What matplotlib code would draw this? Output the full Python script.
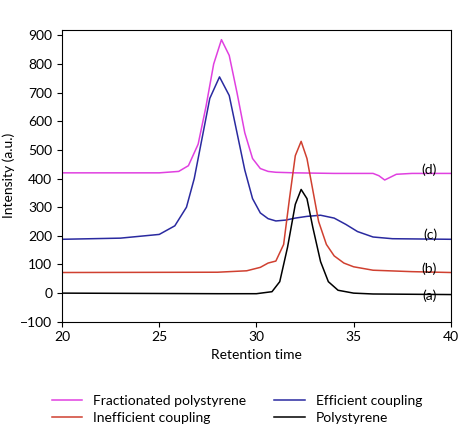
import matplotlib
matplotlib.use("Agg")
import matplotlib.pyplot as plt

plt.rcParams['font.family'] = ['Lato', 'DejaVu Sans']

# (d) Fractionated polystyrene
xd = [20, 25, 26, 26.5, 27, 27.4, 27.8, 28.2, 28.6, 29, 29.4, 29.8, 30.2, 30.6, 31, 32, 34, 36, 36.3, 36.6, 36.9, 37.2, 38, 40]
yd = [420, 420, 425, 445, 520, 650, 800, 885, 830, 700, 560, 470, 435, 425, 422, 420, 418, 418, 410, 395, 405, 415, 418, 418]
# (c) Efficient coupling
xc = [20, 23, 25, 25.8, 26.4, 26.8, 27.2, 27.6, 28.1, 28.6, 29, 29.4, 29.8, 30.2, 30.6, 31, 31.5, 32, 32.6, 33.3, 34, 34.6, 35.2, 36, 37, 40]
yc = [188, 192, 205, 235, 300, 400, 540, 680, 755, 690, 560, 430, 330, 280, 260, 252, 255, 262, 268, 272, 262, 240, 215, 196, 190, 188]
# (b) Inefficient coupling
xb = [20, 28, 29.5, 30.2, 30.6, 31, 31.4, 31.7, 32, 32.3, 32.6, 32.9, 33.2, 33.6, 34, 34.5, 35, 36, 38, 40]
yb = [72, 73, 78, 90, 105, 112, 170, 330, 480, 530, 470, 360, 250, 170, 130, 105, 92, 80, 75, 72]
# (a) Polystyrene
xa = [20, 28, 30, 30.8, 31.2, 31.6, 32, 32.3, 32.6, 32.9, 33.3, 33.7, 34.2, 35, 36, 40]
ya = [0, -2, -2, 5, 40, 160, 310, 362, 330, 230, 110, 40, 10, 0, -3, -5]

fig = plt.figure(figsize=(4.74, 4.36), dpi=100)
ax = fig.add_axes([0.131, 0.262, 0.82, 0.67])
ax.plot(xd, yd, color='#e040e0', lw=1.1, label='Fractionated polystyrene')
ax.plot(xc, yc, color='#2a2aa0', lw=1.1, label='Efficient coupling')
ax.plot(xb, yb, color='#d04030', lw=1.1, label='Inefficient coupling')
ax.plot(xa, ya, color='black', lw=1.1, label='Polystyrene')
ax.set_xlim(20, 40)
ax.set_ylim(-100, 920)
ax.set_yticks(range(-100, 901, 100))
ax.set_xticks([20, 25, 30, 35, 40])
ax.tick_params(labelsize=10, direction='out')
ax.set_xlabel('Retention time', fontsize=10)
ax.set_ylabel('Intensity (a.u.)', fontsize=10)
for y, t in [(430, '(d)'), (205, '(c)'), (85, '(b)'), (-8, '(a)')]:
    ax.text(39.3, y, t, fontsize=10, ha='right', va='center')
h, l = ax.get_legend_handles_labels()
order = [0, 2, 1, 3]
fig.legend([h[i] for i in order], [l[i] for i in order], loc='lower center',
           bbox_to_anchor=(0.5, 0.0), ncol=2, frameon=False, fontsize=10,
           handlelength=2.2, columnspacing=2.0, labelspacing=0.3)
fig.savefig('out.png', dpi=100)
